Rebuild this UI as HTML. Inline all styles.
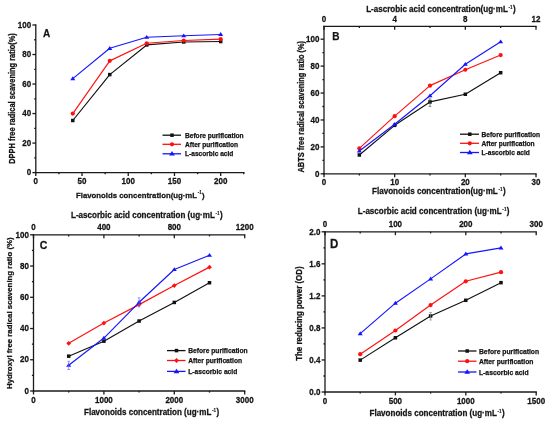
<!DOCTYPE html>
<html><head><meta charset="utf-8"><style>
html,body{margin:0;padding:0;background:#fff;}
svg{display:block;font-family:"Liberation Sans", sans-serif;filter:blur(0.45px);}
</style></head><body>
<svg width="550" height="424" viewBox="0 0 550 424">
<rect width="550" height="424" fill="#fff"/>
<line x1="35.15" y1="172.60" x2="244.45" y2="172.60" stroke="#1a1a1a" stroke-width="1.3"/>
<line x1="35.80" y1="24.35" x2="35.80" y2="173.25" stroke="#1a1a1a" stroke-width="1.3"/>
<line x1="32.40" y1="172.60" x2="35.80" y2="172.60" stroke="#1a1a1a" stroke-width="1.3"/>
<text transform="translate(31.20 175.33) scale(1.0 1.12)" font-size="8" text-anchor="end" font-weight="bold" fill="#141414" stroke="#141414" stroke-width="0.25">0</text>
<line x1="32.40" y1="143.08" x2="35.80" y2="143.08" stroke="#1a1a1a" stroke-width="1.3"/>
<text transform="translate(31.20 145.81) scale(1.0 1.12)" font-size="8" text-anchor="end" font-weight="bold" fill="#141414" stroke="#141414" stroke-width="0.25">20</text>
<line x1="32.40" y1="113.56" x2="35.80" y2="113.56" stroke="#1a1a1a" stroke-width="1.3"/>
<text transform="translate(31.20 116.29) scale(1.0 1.12)" font-size="8" text-anchor="end" font-weight="bold" fill="#141414" stroke="#141414" stroke-width="0.25">40</text>
<line x1="32.40" y1="84.04" x2="35.80" y2="84.04" stroke="#1a1a1a" stroke-width="1.3"/>
<text transform="translate(31.20 86.77) scale(1.0 1.12)" font-size="8" text-anchor="end" font-weight="bold" fill="#141414" stroke="#141414" stroke-width="0.25">60</text>
<line x1="32.40" y1="54.52" x2="35.80" y2="54.52" stroke="#1a1a1a" stroke-width="1.3"/>
<text transform="translate(31.20 57.25) scale(1.0 1.12)" font-size="8" text-anchor="end" font-weight="bold" fill="#141414" stroke="#141414" stroke-width="0.25">80</text>
<line x1="32.40" y1="25.00" x2="35.80" y2="25.00" stroke="#1a1a1a" stroke-width="1.3"/>
<text transform="translate(31.20 27.73) scale(1.0 1.12)" font-size="8" text-anchor="end" font-weight="bold" fill="#141414" stroke="#141414" stroke-width="0.25">100</text>
<line x1="34.20" y1="157.84" x2="35.80" y2="157.84" stroke="#1a1a1a" stroke-width="1.3"/>
<line x1="34.20" y1="128.32" x2="35.80" y2="128.32" stroke="#1a1a1a" stroke-width="1.3"/>
<line x1="34.20" y1="98.80" x2="35.80" y2="98.80" stroke="#1a1a1a" stroke-width="1.3"/>
<line x1="34.20" y1="69.28" x2="35.80" y2="69.28" stroke="#1a1a1a" stroke-width="1.3"/>
<line x1="34.20" y1="39.76" x2="35.80" y2="39.76" stroke="#1a1a1a" stroke-width="1.3"/>
<line x1="35.80" y1="172.60" x2="35.80" y2="176.00" stroke="#1a1a1a" stroke-width="1.3"/>
<text transform="translate(35.80 184.23) scale(1.0 1.12)" font-size="8" text-anchor="middle" font-weight="bold" fill="#141414" stroke="#141414" stroke-width="0.25">0</text>
<line x1="82.02" y1="172.60" x2="82.02" y2="176.00" stroke="#1a1a1a" stroke-width="1.3"/>
<text transform="translate(82.02 184.23) scale(1.0 1.12)" font-size="8" text-anchor="middle" font-weight="bold" fill="#141414" stroke="#141414" stroke-width="0.25">50</text>
<line x1="128.24" y1="172.60" x2="128.24" y2="176.00" stroke="#1a1a1a" stroke-width="1.3"/>
<text transform="translate(128.24 184.23) scale(1.0 1.12)" font-size="8" text-anchor="middle" font-weight="bold" fill="#141414" stroke="#141414" stroke-width="0.25">100</text>
<line x1="174.47" y1="172.60" x2="174.47" y2="176.00" stroke="#1a1a1a" stroke-width="1.3"/>
<text transform="translate(174.47 184.23) scale(1.0 1.12)" font-size="8" text-anchor="middle" font-weight="bold" fill="#141414" stroke="#141414" stroke-width="0.25">150</text>
<line x1="220.69" y1="172.60" x2="220.69" y2="176.00" stroke="#1a1a1a" stroke-width="1.3"/>
<text transform="translate(220.69 184.23) scale(1.0 1.12)" font-size="8" text-anchor="middle" font-weight="bold" fill="#141414" stroke="#141414" stroke-width="0.25">200</text>
<line x1="58.91" y1="172.60" x2="58.91" y2="174.20" stroke="#1a1a1a" stroke-width="1.3"/>
<line x1="105.13" y1="172.60" x2="105.13" y2="174.20" stroke="#1a1a1a" stroke-width="1.3"/>
<line x1="151.36" y1="172.60" x2="151.36" y2="174.20" stroke="#1a1a1a" stroke-width="1.3"/>
<line x1="197.58" y1="172.60" x2="197.58" y2="174.20" stroke="#1a1a1a" stroke-width="1.3"/>
<line x1="243.80" y1="172.60" x2="243.80" y2="174.20" stroke="#1a1a1a" stroke-width="1.3"/>
<text transform="translate(76.00 197.50) scale(1.0 1.04)" font-size="7.8" text-anchor="start" font-weight="bold" fill="#141414" stroke="#141414" stroke-width="0.25">Flavonoids concentration(ug·mL<tspan font-size="4.6" dx="0.7" dy="-3.1" stroke-width="0.1">-1</tspan><tspan dy="3.1" dx="0.3">)</tspan></text>
<text transform="translate(14.50 163.80) rotate(-90) scale(1.0 1.15)" font-size="7.45" text-anchor="start" font-weight="bold" fill="#141414" stroke="#141414" stroke-width="0.25">DPPH free radical scavening ratio(%)</text>
<text transform="translate(42.90 37.10) scale(1.0 1.0)" font-size="10" text-anchor="start" font-weight="bold" fill="#141414" stroke="#141414" stroke-width="0.25">A</text>
<polyline points="72.78,120.50 109.76,74.59 146.73,44.93 183.71,41.97 220.69,41.53" fill="none" stroke="#111111" stroke-width="1.15" stroke-linejoin="round"/>
<rect x="71.03" y="118.75" width="3.50" height="3.50" fill="#111111"/>
<rect x="108.01" y="72.84" width="3.50" height="3.50" fill="#111111"/>
<rect x="144.98" y="43.18" width="3.50" height="3.50" fill="#111111"/>
<rect x="181.96" y="40.22" width="3.50" height="3.50" fill="#111111"/>
<rect x="218.94" y="39.78" width="3.50" height="3.50" fill="#111111"/>
<polyline points="72.78,113.56 109.76,60.87 146.73,43.30 183.71,40.50 220.69,39.17" fill="none" stroke="#ff1010" stroke-width="1.15" stroke-linejoin="round"/>
<circle cx="72.78" cy="113.56" r="2.10" fill="#ff1010"/>
<circle cx="109.76" cy="60.87" r="2.10" fill="#ff1010"/>
<circle cx="146.73" cy="43.30" r="2.10" fill="#ff1010"/>
<circle cx="183.71" cy="40.50" r="2.10" fill="#ff1010"/>
<circle cx="220.69" cy="39.17" r="2.10" fill="#ff1010"/>
<polyline points="72.78,78.58 109.76,48.32 146.73,37.25 183.71,35.77 220.69,34.45" fill="none" stroke="#1515ff" stroke-width="1.15" stroke-linejoin="round"/>
<polygon points="70.28,80.14 75.28,80.14 72.78,76.24" fill="#1515ff"/>
<polygon points="107.26,49.88 112.26,49.88 109.76,45.98" fill="#1515ff"/>
<polygon points="144.23,38.81 149.23,38.81 146.73,34.91" fill="#1515ff"/>
<polygon points="181.21,37.33 186.21,37.33 183.71,33.43" fill="#1515ff"/>
<polygon points="218.19,36.01 223.19,36.01 220.69,32.11" fill="#1515ff"/>
<line x1="162.50" y1="135.20" x2="181.00" y2="135.20" stroke="#111111" stroke-width="1.3"/>
<rect x="170.25" y="133.45" width="3.50" height="3.50" fill="#111111"/>
<text transform="translate(185.00 137.70) scale(1.0 1.0)" font-size="6.6" text-anchor="start" font-weight="bold" fill="#141414" stroke="#141414" stroke-width="0.25">Before purification</text>
<line x1="162.50" y1="144.30" x2="181.00" y2="144.30" stroke="#ff1010" stroke-width="1.3"/>
<circle cx="172.00" cy="144.30" r="2.10" fill="#ff1010"/>
<text transform="translate(185.00 146.80) scale(1.0 1.0)" font-size="6.6" text-anchor="start" font-weight="bold" fill="#141414" stroke="#141414" stroke-width="0.25">After purification</text>
<line x1="162.50" y1="153.80" x2="181.00" y2="153.80" stroke="#1515ff" stroke-width="1.3"/>
<polygon points="169.12,155.59 174.88,155.59 172.00,151.11" fill="#1515ff"/>
<text transform="translate(185.00 156.30) scale(1.0 1.0)" font-size="6.6" text-anchor="start" font-weight="bold" fill="#141414" stroke="#141414" stroke-width="0.25">L-ascorbic acid</text>
<line x1="323.35" y1="173.80" x2="536.65" y2="173.80" stroke="#1a1a1a" stroke-width="1.3"/>
<line x1="324.00" y1="25.65" x2="324.00" y2="174.45" stroke="#1a1a1a" stroke-width="1.3"/>
<line x1="323.35" y1="26.30" x2="536.65" y2="26.30" stroke="#1a1a1a" stroke-width="1.3"/>
<line x1="320.60" y1="173.80" x2="324.00" y2="173.80" stroke="#1a1a1a" stroke-width="1.3"/>
<text transform="translate(319.40 176.53) scale(1.0 1.12)" font-size="8" text-anchor="end" font-weight="bold" fill="#141414" stroke="#141414" stroke-width="0.25">0</text>
<line x1="320.60" y1="146.88" x2="324.00" y2="146.88" stroke="#1a1a1a" stroke-width="1.3"/>
<text transform="translate(319.40 149.61) scale(1.0 1.12)" font-size="8" text-anchor="end" font-weight="bold" fill="#141414" stroke="#141414" stroke-width="0.25">20</text>
<line x1="320.60" y1="119.96" x2="324.00" y2="119.96" stroke="#1a1a1a" stroke-width="1.3"/>
<text transform="translate(319.40 122.69) scale(1.0 1.12)" font-size="8" text-anchor="end" font-weight="bold" fill="#141414" stroke="#141414" stroke-width="0.25">40</text>
<line x1="320.60" y1="93.04" x2="324.00" y2="93.04" stroke="#1a1a1a" stroke-width="1.3"/>
<text transform="translate(319.40 95.77) scale(1.0 1.12)" font-size="8" text-anchor="end" font-weight="bold" fill="#141414" stroke="#141414" stroke-width="0.25">60</text>
<line x1="320.60" y1="66.12" x2="324.00" y2="66.12" stroke="#1a1a1a" stroke-width="1.3"/>
<text transform="translate(319.40 68.85) scale(1.0 1.12)" font-size="8" text-anchor="end" font-weight="bold" fill="#141414" stroke="#141414" stroke-width="0.25">80</text>
<line x1="320.60" y1="39.20" x2="324.00" y2="39.20" stroke="#1a1a1a" stroke-width="1.3"/>
<text transform="translate(319.40 41.93) scale(1.0 1.12)" font-size="8" text-anchor="end" font-weight="bold" fill="#141414" stroke="#141414" stroke-width="0.25">100</text>
<line x1="322.40" y1="160.34" x2="324.00" y2="160.34" stroke="#1a1a1a" stroke-width="1.3"/>
<line x1="322.40" y1="133.42" x2="324.00" y2="133.42" stroke="#1a1a1a" stroke-width="1.3"/>
<line x1="322.40" y1="106.50" x2="324.00" y2="106.50" stroke="#1a1a1a" stroke-width="1.3"/>
<line x1="322.40" y1="79.58" x2="324.00" y2="79.58" stroke="#1a1a1a" stroke-width="1.3"/>
<line x1="322.40" y1="52.66" x2="324.00" y2="52.66" stroke="#1a1a1a" stroke-width="1.3"/>
<line x1="324.00" y1="173.80" x2="324.00" y2="177.20" stroke="#1a1a1a" stroke-width="1.3"/>
<text transform="translate(324.00 185.23) scale(1.0 1.12)" font-size="8" text-anchor="middle" font-weight="bold" fill="#141414" stroke="#141414" stroke-width="0.25">0</text>
<line x1="394.67" y1="173.80" x2="394.67" y2="177.20" stroke="#1a1a1a" stroke-width="1.3"/>
<text transform="translate(394.67 185.23) scale(1.0 1.12)" font-size="8" text-anchor="middle" font-weight="bold" fill="#141414" stroke="#141414" stroke-width="0.25">10</text>
<line x1="465.33" y1="173.80" x2="465.33" y2="177.20" stroke="#1a1a1a" stroke-width="1.3"/>
<text transform="translate(465.33 185.23) scale(1.0 1.12)" font-size="8" text-anchor="middle" font-weight="bold" fill="#141414" stroke="#141414" stroke-width="0.25">20</text>
<line x1="536.00" y1="173.80" x2="536.00" y2="177.20" stroke="#1a1a1a" stroke-width="1.3"/>
<text transform="translate(536.00 185.23) scale(1.0 1.12)" font-size="8" text-anchor="middle" font-weight="bold" fill="#141414" stroke="#141414" stroke-width="0.25">30</text>
<line x1="359.33" y1="173.80" x2="359.33" y2="175.40" stroke="#1a1a1a" stroke-width="1.3"/>
<line x1="430.00" y1="173.80" x2="430.00" y2="175.40" stroke="#1a1a1a" stroke-width="1.3"/>
<line x1="500.67" y1="173.80" x2="500.67" y2="175.40" stroke="#1a1a1a" stroke-width="1.3"/>
<line x1="324.00" y1="26.30" x2="324.00" y2="29.70" stroke="#1a1a1a" stroke-width="1.3"/>
<text transform="translate(324.00 21.73) scale(1.0 1.12)" font-size="8" text-anchor="middle" font-weight="bold" fill="#141414" stroke="#141414" stroke-width="0.25">0</text>
<line x1="394.67" y1="26.30" x2="394.67" y2="29.70" stroke="#1a1a1a" stroke-width="1.3"/>
<text transform="translate(394.67 21.73) scale(1.0 1.12)" font-size="8" text-anchor="middle" font-weight="bold" fill="#141414" stroke="#141414" stroke-width="0.25">4</text>
<line x1="465.33" y1="26.30" x2="465.33" y2="29.70" stroke="#1a1a1a" stroke-width="1.3"/>
<text transform="translate(465.33 21.73) scale(1.0 1.12)" font-size="8" text-anchor="middle" font-weight="bold" fill="#141414" stroke="#141414" stroke-width="0.25">8</text>
<line x1="536.00" y1="26.30" x2="536.00" y2="29.70" stroke="#1a1a1a" stroke-width="1.3"/>
<text transform="translate(536.00 21.73) scale(1.0 1.12)" font-size="8" text-anchor="middle" font-weight="bold" fill="#141414" stroke="#141414" stroke-width="0.25">12</text>
<line x1="359.33" y1="26.30" x2="359.33" y2="27.90" stroke="#1a1a1a" stroke-width="1.3"/>
<line x1="430.00" y1="26.30" x2="430.00" y2="27.90" stroke="#1a1a1a" stroke-width="1.3"/>
<line x1="500.67" y1="26.30" x2="500.67" y2="27.90" stroke="#1a1a1a" stroke-width="1.3"/>
<text transform="translate(366.20 12.30) scale(1.0 1.04)" font-size="8.05" text-anchor="start" font-weight="bold" fill="#141414" stroke="#141414" stroke-width="0.25">L-ascrobic acid concentration(ug·mL<tspan font-size="4.6" dx="0.7" dy="-3.1" stroke-width="0.1">-1</tspan><tspan dy="3.1" dx="0.3">)</tspan></text>
<text transform="translate(372.00 194.10) scale(1.0 1.04)" font-size="8.1" text-anchor="start" font-weight="bold" fill="#141414" stroke="#141414" stroke-width="0.25">Flavonoids concentration(ug·mL<tspan font-size="4.6" dx="0.7" dy="-3.1" stroke-width="0.1">-1</tspan><tspan dy="3.1" dx="0.3">)</tspan></text>
<text transform="translate(303.90 172.50) rotate(-90) scale(1.0 1.15)" font-size="7.4" text-anchor="start" font-weight="bold" fill="#141414" stroke="#141414" stroke-width="0.25">ABTS free radical scavening ratio (%)</text>
<text transform="translate(332.30 39.60) scale(1.0 1.0)" font-size="10" text-anchor="start" font-weight="bold" fill="#141414" stroke="#141414" stroke-width="0.25">B</text>
<polyline points="359.33,154.96 394.67,125.34 430.00,101.92 465.33,94.25 500.67,72.72" fill="none" stroke="#111111" stroke-width="1.15" stroke-linejoin="round"/>
<rect x="357.58" y="153.21" width="3.50" height="3.50" fill="#111111"/>
<rect x="392.92" y="123.59" width="3.50" height="3.50" fill="#111111"/>
<rect x="428.25" y="100.17" width="3.50" height="3.50" fill="#111111"/>
<rect x="463.58" y="92.50" width="3.50" height="3.50" fill="#111111"/>
<rect x="498.92" y="70.97" width="3.50" height="3.50" fill="#111111"/>
<polyline points="359.33,148.36 394.67,116.19 430.00,85.64 465.33,69.75 500.67,55.08" fill="none" stroke="#ff1010" stroke-width="1.15" stroke-linejoin="round"/>
<circle cx="359.33" cy="148.36" r="2.10" fill="#ff1010"/>
<circle cx="394.67" cy="116.19" r="2.10" fill="#ff1010"/>
<circle cx="430.00" cy="85.64" r="2.10" fill="#ff1010"/>
<circle cx="465.33" cy="69.75" r="2.10" fill="#ff1010"/>
<circle cx="500.67" cy="55.08" r="2.10" fill="#ff1010"/>
<polyline points="359.33,151.05 394.67,124.27 430.00,95.73 465.33,64.24 500.67,41.76" fill="none" stroke="#1515ff" stroke-width="1.15" stroke-linejoin="round"/>
<polygon points="356.83,152.61 361.83,152.61 359.33,148.71" fill="#1515ff"/>
<polygon points="392.17,125.83 397.17,125.83 394.67,121.93" fill="#1515ff"/>
<polygon points="427.50,97.29 432.50,97.29 430.00,93.39" fill="#1515ff"/>
<polygon points="462.83,65.80 467.83,65.80 465.33,61.90" fill="#1515ff"/>
<polygon points="498.17,43.32 503.17,43.32 500.67,39.42" fill="#1515ff"/>
<line x1="430.00" y1="98.90" x2="430.00" y2="106.40" stroke="#555555" stroke-width="0.7"/>
<line x1="428.70" y1="98.90" x2="431.30" y2="98.90" stroke="#555555" stroke-width="0.7"/>
<line x1="428.70" y1="106.40" x2="431.30" y2="106.40" stroke="#555555" stroke-width="0.7"/>
<line x1="460.00" y1="134.20" x2="479.00" y2="134.20" stroke="#111111" stroke-width="1.3"/>
<rect x="468.05" y="132.45" width="3.50" height="3.50" fill="#111111"/>
<text transform="translate(481.50 136.70) scale(1.0 1.0)" font-size="6.6" text-anchor="start" font-weight="bold" fill="#141414" stroke="#141414" stroke-width="0.25">Before purification</text>
<line x1="460.00" y1="143.30" x2="479.00" y2="143.30" stroke="#ff1010" stroke-width="1.3"/>
<circle cx="469.80" cy="143.30" r="2.10" fill="#ff1010"/>
<text transform="translate(481.50 145.80) scale(1.0 1.0)" font-size="6.6" text-anchor="start" font-weight="bold" fill="#141414" stroke="#141414" stroke-width="0.25">After purification</text>
<line x1="460.00" y1="152.50" x2="479.00" y2="152.50" stroke="#1515ff" stroke-width="1.3"/>
<polygon points="466.93,154.29 472.68,154.29 469.80,149.81" fill="#1515ff"/>
<text transform="translate(481.50 155.00) scale(1.0 1.0)" font-size="6.6" text-anchor="start" font-weight="bold" fill="#141414" stroke="#141414" stroke-width="0.25">L-ascorbic acid</text>
<line x1="32.85" y1="391.00" x2="245.35" y2="391.00" stroke="#1a1a1a" stroke-width="1.3"/>
<line x1="33.50" y1="234.15" x2="33.50" y2="391.65" stroke="#1a1a1a" stroke-width="1.3"/>
<line x1="32.85" y1="234.80" x2="245.35" y2="234.80" stroke="#1a1a1a" stroke-width="1.3"/>
<line x1="30.10" y1="391.00" x2="33.50" y2="391.00" stroke="#1a1a1a" stroke-width="1.3"/>
<text transform="translate(28.90 393.73) scale(1.0 1.12)" font-size="8" text-anchor="end" font-weight="bold" fill="#141414" stroke="#141414" stroke-width="0.25">0</text>
<line x1="30.10" y1="359.76" x2="33.50" y2="359.76" stroke="#1a1a1a" stroke-width="1.3"/>
<text transform="translate(28.90 362.49) scale(1.0 1.12)" font-size="8" text-anchor="end" font-weight="bold" fill="#141414" stroke="#141414" stroke-width="0.25">20</text>
<line x1="30.10" y1="328.52" x2="33.50" y2="328.52" stroke="#1a1a1a" stroke-width="1.3"/>
<text transform="translate(28.90 331.25) scale(1.0 1.12)" font-size="8" text-anchor="end" font-weight="bold" fill="#141414" stroke="#141414" stroke-width="0.25">40</text>
<line x1="30.10" y1="297.28" x2="33.50" y2="297.28" stroke="#1a1a1a" stroke-width="1.3"/>
<text transform="translate(28.90 300.01) scale(1.0 1.12)" font-size="8" text-anchor="end" font-weight="bold" fill="#141414" stroke="#141414" stroke-width="0.25">60</text>
<line x1="30.10" y1="266.04" x2="33.50" y2="266.04" stroke="#1a1a1a" stroke-width="1.3"/>
<text transform="translate(28.90 268.77) scale(1.0 1.12)" font-size="8" text-anchor="end" font-weight="bold" fill="#141414" stroke="#141414" stroke-width="0.25">80</text>
<line x1="30.10" y1="234.80" x2="33.50" y2="234.80" stroke="#1a1a1a" stroke-width="1.3"/>
<text transform="translate(28.90 237.53) scale(1.0 1.12)" font-size="8" text-anchor="end" font-weight="bold" fill="#141414" stroke="#141414" stroke-width="0.25">100</text>
<line x1="31.90" y1="375.38" x2="33.50" y2="375.38" stroke="#1a1a1a" stroke-width="1.3"/>
<line x1="31.90" y1="344.14" x2="33.50" y2="344.14" stroke="#1a1a1a" stroke-width="1.3"/>
<line x1="31.90" y1="312.90" x2="33.50" y2="312.90" stroke="#1a1a1a" stroke-width="1.3"/>
<line x1="31.90" y1="281.66" x2="33.50" y2="281.66" stroke="#1a1a1a" stroke-width="1.3"/>
<line x1="31.90" y1="250.42" x2="33.50" y2="250.42" stroke="#1a1a1a" stroke-width="1.3"/>
<line x1="33.50" y1="391.00" x2="33.50" y2="394.40" stroke="#1a1a1a" stroke-width="1.3"/>
<text transform="translate(33.50 402.73) scale(1.0 1.12)" font-size="8" text-anchor="middle" font-weight="bold" fill="#141414" stroke="#141414" stroke-width="0.25">0</text>
<line x1="103.90" y1="391.00" x2="103.90" y2="394.40" stroke="#1a1a1a" stroke-width="1.3"/>
<text transform="translate(103.90 402.73) scale(1.0 1.12)" font-size="8" text-anchor="middle" font-weight="bold" fill="#141414" stroke="#141414" stroke-width="0.25">1000</text>
<line x1="174.30" y1="391.00" x2="174.30" y2="394.40" stroke="#1a1a1a" stroke-width="1.3"/>
<text transform="translate(174.30 402.73) scale(1.0 1.12)" font-size="8" text-anchor="middle" font-weight="bold" fill="#141414" stroke="#141414" stroke-width="0.25">2000</text>
<line x1="244.70" y1="391.00" x2="244.70" y2="394.40" stroke="#1a1a1a" stroke-width="1.3"/>
<text transform="translate(244.70 402.73) scale(1.0 1.12)" font-size="8" text-anchor="middle" font-weight="bold" fill="#141414" stroke="#141414" stroke-width="0.25">3000</text>
<line x1="68.70" y1="391.00" x2="68.70" y2="392.60" stroke="#1a1a1a" stroke-width="1.3"/>
<line x1="139.10" y1="391.00" x2="139.10" y2="392.60" stroke="#1a1a1a" stroke-width="1.3"/>
<line x1="209.50" y1="391.00" x2="209.50" y2="392.60" stroke="#1a1a1a" stroke-width="1.3"/>
<line x1="33.50" y1="234.80" x2="33.50" y2="238.20" stroke="#1a1a1a" stroke-width="1.3"/>
<text transform="translate(33.50 230.43) scale(1.0 1.12)" font-size="8" text-anchor="middle" font-weight="bold" fill="#141414" stroke="#141414" stroke-width="0.25">0</text>
<line x1="103.90" y1="234.80" x2="103.90" y2="238.20" stroke="#1a1a1a" stroke-width="1.3"/>
<text transform="translate(103.90 230.43) scale(1.0 1.12)" font-size="8" text-anchor="middle" font-weight="bold" fill="#141414" stroke="#141414" stroke-width="0.25">400</text>
<line x1="174.30" y1="234.80" x2="174.30" y2="238.20" stroke="#1a1a1a" stroke-width="1.3"/>
<text transform="translate(174.30 230.43) scale(1.0 1.12)" font-size="8" text-anchor="middle" font-weight="bold" fill="#141414" stroke="#141414" stroke-width="0.25">800</text>
<line x1="244.70" y1="234.80" x2="244.70" y2="238.20" stroke="#1a1a1a" stroke-width="1.3"/>
<text transform="translate(244.70 230.43) scale(1.0 1.12)" font-size="8" text-anchor="middle" font-weight="bold" fill="#141414" stroke="#141414" stroke-width="0.25">1200</text>
<line x1="68.70" y1="234.80" x2="68.70" y2="236.40" stroke="#1a1a1a" stroke-width="1.3"/>
<line x1="139.10" y1="234.80" x2="139.10" y2="236.40" stroke="#1a1a1a" stroke-width="1.3"/>
<line x1="209.50" y1="234.80" x2="209.50" y2="236.40" stroke="#1a1a1a" stroke-width="1.3"/>
<text transform="translate(71.00 218.30) scale(1.0 1.04)" font-size="8.05" text-anchor="start" font-weight="bold" fill="#141414" stroke="#141414" stroke-width="0.25">L-ascorbic acid concentration (ug·mL<tspan font-size="4.6" dx="0.7" dy="-3.1" stroke-width="0.1">-1</tspan><tspan dy="3.1" dx="0.3">)</tspan></text>
<text transform="translate(84.00 415.00) scale(1.0 1.04)" font-size="8.05" text-anchor="start" font-weight="bold" fill="#141414" stroke="#141414" stroke-width="0.25">Flavonoids concentration (ug·mL<tspan font-size="4.6" dx="0.7" dy="-3.1" stroke-width="0.1">-1</tspan><tspan dy="3.1" dx="0.3">)</tspan></text>
<text transform="translate(12.40 389.00) rotate(-90) scale(1.0 1.0)" font-size="7.85" text-anchor="start" font-weight="bold" fill="#141414" stroke="#141414" stroke-width="0.25">Hydroxyl free radical scavening ratio (%)</text>
<text transform="translate(39.70 248.80) scale(1.0 1.05)" font-size="10.5" text-anchor="start" font-weight="bold" fill="#141414" stroke="#141414" stroke-width="0.25">C</text>
<polyline points="68.70,356.17 103.90,341.17 139.10,321.02 174.30,302.43 209.50,282.75" fill="none" stroke="#111111" stroke-width="1.15" stroke-linejoin="round"/>
<rect x="66.95" y="354.42" width="3.50" height="3.50" fill="#111111"/>
<rect x="102.15" y="339.42" width="3.50" height="3.50" fill="#111111"/>
<rect x="137.35" y="319.27" width="3.50" height="3.50" fill="#111111"/>
<rect x="172.55" y="300.68" width="3.50" height="3.50" fill="#111111"/>
<rect x="207.75" y="281.00" width="3.50" height="3.50" fill="#111111"/>
<polyline points="68.70,343.36 103.90,323.05 139.10,304.62 174.30,285.56 209.50,267.13" fill="none" stroke="#ff1010" stroke-width="1.15" stroke-linejoin="round"/>
<polygon points="68.70,340.96 71.10,343.36 68.70,345.76 66.30,343.36" fill="#ff1010"/>
<polygon points="103.90,320.65 106.30,323.05 103.90,325.45 101.50,323.05" fill="#ff1010"/>
<polygon points="139.10,302.22 141.50,304.62 139.10,307.02 136.70,304.62" fill="#ff1010"/>
<polygon points="174.30,283.17 176.70,285.56 174.30,287.96 171.90,285.56" fill="#ff1010"/>
<polygon points="209.50,264.73 211.90,267.13 209.50,269.53 207.10,267.13" fill="#ff1010"/>
<polyline points="68.70,365.23 103.90,338.05 139.10,302.28 174.30,269.48 209.50,255.26" fill="none" stroke="#1515ff" stroke-width="1.15" stroke-linejoin="round"/>
<polygon points="66.20,366.79 71.20,366.79 68.70,362.89" fill="#1515ff"/>
<polygon points="101.40,339.61 106.40,339.61 103.90,335.71" fill="#1515ff"/>
<polygon points="136.60,303.84 141.60,303.84 139.10,299.94" fill="#1515ff"/>
<polygon points="171.80,271.04 176.80,271.04 174.30,267.14" fill="#1515ff"/>
<polygon points="207.00,256.82 212.00,256.82 209.50,252.92" fill="#1515ff"/>
<line x1="68.70" y1="361.30" x2="68.70" y2="369.50" stroke="#6a6aff" stroke-width="0.7"/>
<line x1="67.40" y1="361.30" x2="70.00" y2="361.30" stroke="#6a6aff" stroke-width="0.7"/>
<line x1="67.40" y1="369.50" x2="70.00" y2="369.50" stroke="#6a6aff" stroke-width="0.7"/>
<line x1="139.10" y1="297.80" x2="139.10" y2="306.90" stroke="#6a6aff" stroke-width="0.7"/>
<line x1="137.80" y1="297.80" x2="140.40" y2="297.80" stroke="#6a6aff" stroke-width="0.7"/>
<line x1="137.80" y1="306.90" x2="140.40" y2="306.90" stroke="#6a6aff" stroke-width="0.7"/>
<line x1="167.00" y1="350.60" x2="185.50" y2="350.60" stroke="#111111" stroke-width="1.3"/>
<rect x="174.75" y="348.85" width="3.50" height="3.50" fill="#111111"/>
<text transform="translate(188.20 353.10) scale(1.0 1.0)" font-size="6.7" text-anchor="start" font-weight="bold" fill="#141414" stroke="#141414" stroke-width="0.25">Before purification</text>
<line x1="167.00" y1="360.50" x2="185.50" y2="360.50" stroke="#ff1010" stroke-width="1.3"/>
<polygon points="176.50,358.10 178.90,360.50 176.50,362.90 174.10,360.50" fill="#ff1010"/>
<text transform="translate(188.20 363.00) scale(1.0 1.0)" font-size="6.7" text-anchor="start" font-weight="bold" fill="#141414" stroke="#141414" stroke-width="0.25">After purification</text>
<line x1="167.00" y1="371.40" x2="185.50" y2="371.40" stroke="#1515ff" stroke-width="1.3"/>
<polygon points="173.62,373.19 179.38,373.19 176.50,368.71" fill="#1515ff"/>
<text transform="translate(188.20 373.90) scale(1.0 1.0)" font-size="6.7" text-anchor="start" font-weight="bold" fill="#141414" stroke="#141414" stroke-width="0.25">L-ascorbic acid</text>
<line x1="324.35" y1="392.00" x2="536.85" y2="392.00" stroke="#1a1a1a" stroke-width="1.3"/>
<line x1="325.00" y1="231.15" x2="325.00" y2="392.65" stroke="#1a1a1a" stroke-width="1.3"/>
<line x1="324.35" y1="231.80" x2="536.85" y2="231.80" stroke="#1a1a1a" stroke-width="1.3"/>
<line x1="321.60" y1="392.00" x2="325.00" y2="392.00" stroke="#1a1a1a" stroke-width="1.3"/>
<text transform="translate(320.40 394.73) scale(1.0 1.12)" font-size="8" text-anchor="end" font-weight="bold" fill="#141414" stroke="#141414" stroke-width="0.25">0.0</text>
<line x1="321.60" y1="359.96" x2="325.00" y2="359.96" stroke="#1a1a1a" stroke-width="1.3"/>
<text transform="translate(320.40 362.69) scale(1.0 1.12)" font-size="8" text-anchor="end" font-weight="bold" fill="#141414" stroke="#141414" stroke-width="0.25">0.4</text>
<line x1="321.60" y1="327.92" x2="325.00" y2="327.92" stroke="#1a1a1a" stroke-width="1.3"/>
<text transform="translate(320.40 330.65) scale(1.0 1.12)" font-size="8" text-anchor="end" font-weight="bold" fill="#141414" stroke="#141414" stroke-width="0.25">0.8</text>
<line x1="321.60" y1="295.88" x2="325.00" y2="295.88" stroke="#1a1a1a" stroke-width="1.3"/>
<text transform="translate(320.40 298.61) scale(1.0 1.12)" font-size="8" text-anchor="end" font-weight="bold" fill="#141414" stroke="#141414" stroke-width="0.25">1.2</text>
<line x1="321.60" y1="263.84" x2="325.00" y2="263.84" stroke="#1a1a1a" stroke-width="1.3"/>
<text transform="translate(320.40 266.57) scale(1.0 1.12)" font-size="8" text-anchor="end" font-weight="bold" fill="#141414" stroke="#141414" stroke-width="0.25">1.6</text>
<line x1="321.60" y1="231.80" x2="325.00" y2="231.80" stroke="#1a1a1a" stroke-width="1.3"/>
<text transform="translate(320.40 234.53) scale(1.0 1.12)" font-size="8" text-anchor="end" font-weight="bold" fill="#141414" stroke="#141414" stroke-width="0.25">2.0</text>
<line x1="323.40" y1="375.98" x2="325.00" y2="375.98" stroke="#1a1a1a" stroke-width="1.3"/>
<line x1="323.40" y1="343.94" x2="325.00" y2="343.94" stroke="#1a1a1a" stroke-width="1.3"/>
<line x1="323.40" y1="311.90" x2="325.00" y2="311.90" stroke="#1a1a1a" stroke-width="1.3"/>
<line x1="323.40" y1="279.86" x2="325.00" y2="279.86" stroke="#1a1a1a" stroke-width="1.3"/>
<line x1="323.40" y1="247.82" x2="325.00" y2="247.82" stroke="#1a1a1a" stroke-width="1.3"/>
<line x1="325.00" y1="392.00" x2="325.00" y2="395.40" stroke="#1a1a1a" stroke-width="1.3"/>
<text transform="translate(325.00 403.93) scale(1.0 1.12)" font-size="8" text-anchor="middle" font-weight="bold" fill="#141414" stroke="#141414" stroke-width="0.25">0</text>
<line x1="395.40" y1="392.00" x2="395.40" y2="395.40" stroke="#1a1a1a" stroke-width="1.3"/>
<text transform="translate(395.40 403.93) scale(1.0 1.12)" font-size="8" text-anchor="middle" font-weight="bold" fill="#141414" stroke="#141414" stroke-width="0.25">500</text>
<line x1="465.80" y1="392.00" x2="465.80" y2="395.40" stroke="#1a1a1a" stroke-width="1.3"/>
<text transform="translate(465.80 403.93) scale(1.0 1.12)" font-size="8" text-anchor="middle" font-weight="bold" fill="#141414" stroke="#141414" stroke-width="0.25">1000</text>
<line x1="536.20" y1="392.00" x2="536.20" y2="395.40" stroke="#1a1a1a" stroke-width="1.3"/>
<text transform="translate(536.20 403.93) scale(1.0 1.12)" font-size="8" text-anchor="middle" font-weight="bold" fill="#141414" stroke="#141414" stroke-width="0.25">1500</text>
<line x1="360.20" y1="392.00" x2="360.20" y2="393.60" stroke="#1a1a1a" stroke-width="1.3"/>
<line x1="430.60" y1="392.00" x2="430.60" y2="393.60" stroke="#1a1a1a" stroke-width="1.3"/>
<line x1="501.00" y1="392.00" x2="501.00" y2="393.60" stroke="#1a1a1a" stroke-width="1.3"/>
<line x1="325.00" y1="231.80" x2="325.00" y2="235.20" stroke="#1a1a1a" stroke-width="1.3"/>
<text transform="translate(325.00 227.03) scale(1.0 1.12)" font-size="8" text-anchor="middle" font-weight="bold" fill="#141414" stroke="#141414" stroke-width="0.25">0</text>
<line x1="395.40" y1="231.80" x2="395.40" y2="235.20" stroke="#1a1a1a" stroke-width="1.3"/>
<text transform="translate(395.40 227.03) scale(1.0 1.12)" font-size="8" text-anchor="middle" font-weight="bold" fill="#141414" stroke="#141414" stroke-width="0.25">100</text>
<line x1="465.80" y1="231.80" x2="465.80" y2="235.20" stroke="#1a1a1a" stroke-width="1.3"/>
<text transform="translate(465.80 227.03) scale(1.0 1.12)" font-size="8" text-anchor="middle" font-weight="bold" fill="#141414" stroke="#141414" stroke-width="0.25">200</text>
<line x1="536.20" y1="231.80" x2="536.20" y2="235.20" stroke="#1a1a1a" stroke-width="1.3"/>
<text transform="translate(536.20 227.03) scale(1.0 1.12)" font-size="8" text-anchor="middle" font-weight="bold" fill="#141414" stroke="#141414" stroke-width="0.25">300</text>
<line x1="360.20" y1="231.80" x2="360.20" y2="233.40" stroke="#1a1a1a" stroke-width="1.3"/>
<line x1="430.60" y1="231.80" x2="430.60" y2="233.40" stroke="#1a1a1a" stroke-width="1.3"/>
<line x1="501.00" y1="231.80" x2="501.00" y2="233.40" stroke="#1a1a1a" stroke-width="1.3"/>
<text transform="translate(357.80 214.30) scale(1.0 1.04)" font-size="8.05" text-anchor="start" font-weight="bold" fill="#141414" stroke="#141414" stroke-width="0.25">L-ascorbic acid concentration (ug·mL<tspan font-size="4.6" dx="0.7" dy="-3.1" stroke-width="0.1">-1</tspan><tspan dy="3.1" dx="0.3">)</tspan></text>
<text transform="translate(369.50 416.00) scale(1.0 1.04)" font-size="8.05" text-anchor="start" font-weight="bold" fill="#141414" stroke="#141414" stroke-width="0.25">Flavonoids concentration (ug·mL<tspan font-size="4.6" dx="0.7" dy="-3.1" stroke-width="0.1">-1</tspan><tspan dy="3.1" dx="0.3">)</tspan></text>
<text transform="translate(301.50 360.80) rotate(-90) scale(1.0 1.08)" font-size="7.9" text-anchor="start" font-weight="bold" fill="#141414" stroke="#141414" stroke-width="0.25">The reducing power (OD)</text>
<text transform="translate(330.10 247.90) scale(1.0 1.05)" font-size="11.5" text-anchor="start" font-weight="bold" fill="#141414" stroke="#141414" stroke-width="0.25">D</text>
<polyline points="360.20,360.12 395.40,337.77 430.60,315.99 465.80,300.29 501.00,282.66" fill="none" stroke="#111111" stroke-width="1.15" stroke-linejoin="round"/>
<rect x="358.45" y="358.37" width="3.50" height="3.50" fill="#111111"/>
<rect x="393.65" y="336.02" width="3.50" height="3.50" fill="#111111"/>
<rect x="428.85" y="314.24" width="3.50" height="3.50" fill="#111111"/>
<rect x="464.05" y="298.54" width="3.50" height="3.50" fill="#111111"/>
<rect x="499.25" y="280.91" width="3.50" height="3.50" fill="#111111"/>
<polyline points="360.20,354.19 395.40,330.48 430.60,305.09 465.80,281.30 501.00,272.17" fill="none" stroke="#ff1010" stroke-width="1.15" stroke-linejoin="round"/>
<circle cx="360.20" cy="354.19" r="2.10" fill="#ff1010"/>
<circle cx="395.40" cy="330.48" r="2.10" fill="#ff1010"/>
<circle cx="430.60" cy="305.09" r="2.10" fill="#ff1010"/>
<circle cx="465.80" cy="281.30" r="2.10" fill="#ff1010"/>
<circle cx="501.00" cy="272.17" r="2.10" fill="#ff1010"/>
<polyline points="360.20,333.61 395.40,303.17 430.60,278.90 465.80,253.91 501.00,247.82" fill="none" stroke="#1515ff" stroke-width="1.15" stroke-linejoin="round"/>
<polygon points="357.70,335.17 362.70,335.17 360.20,331.27" fill="#1515ff"/>
<polygon points="392.90,304.73 397.90,304.73 395.40,300.83" fill="#1515ff"/>
<polygon points="428.10,280.46 433.10,280.46 430.60,276.56" fill="#1515ff"/>
<polygon points="463.30,255.47 468.30,255.47 465.80,251.57" fill="#1515ff"/>
<polygon points="498.50,249.38 503.50,249.38 501.00,245.48" fill="#1515ff"/>
<line x1="430.60" y1="312.50" x2="430.60" y2="320.00" stroke="#8a8a8a" stroke-width="0.7"/>
<line x1="429.30" y1="312.50" x2="431.90" y2="312.50" stroke="#8a8a8a" stroke-width="0.7"/>
<line x1="429.30" y1="320.00" x2="431.90" y2="320.00" stroke="#8a8a8a" stroke-width="0.7"/>
<line x1="458.00" y1="351.00" x2="476.50" y2="351.00" stroke="#111111" stroke-width="1.3"/>
<rect x="465.45" y="349.25" width="3.50" height="3.50" fill="#111111"/>
<text transform="translate(479.00 353.80) scale(1.0 1.0)" font-size="6.75" text-anchor="start" font-weight="bold" fill="#141414" stroke="#141414" stroke-width="0.25">Before purification</text>
<line x1="458.00" y1="361.20" x2="476.50" y2="361.20" stroke="#ff1010" stroke-width="1.3"/>
<circle cx="467.20" cy="361.20" r="2.10" fill="#ff1010"/>
<text transform="translate(479.00 364.00) scale(1.0 1.0)" font-size="6.75" text-anchor="start" font-weight="bold" fill="#141414" stroke="#141414" stroke-width="0.25">After purification</text>
<line x1="458.00" y1="372.00" x2="476.50" y2="372.00" stroke="#1515ff" stroke-width="1.3"/>
<polygon points="464.32,373.79 470.07,373.79 467.20,369.31" fill="#1515ff"/>
<text transform="translate(479.00 374.80) scale(1.0 1.0)" font-size="6.75" text-anchor="start" font-weight="bold" fill="#141414" stroke="#141414" stroke-width="0.25">L-ascorbic acid</text>
</svg></body></html>
